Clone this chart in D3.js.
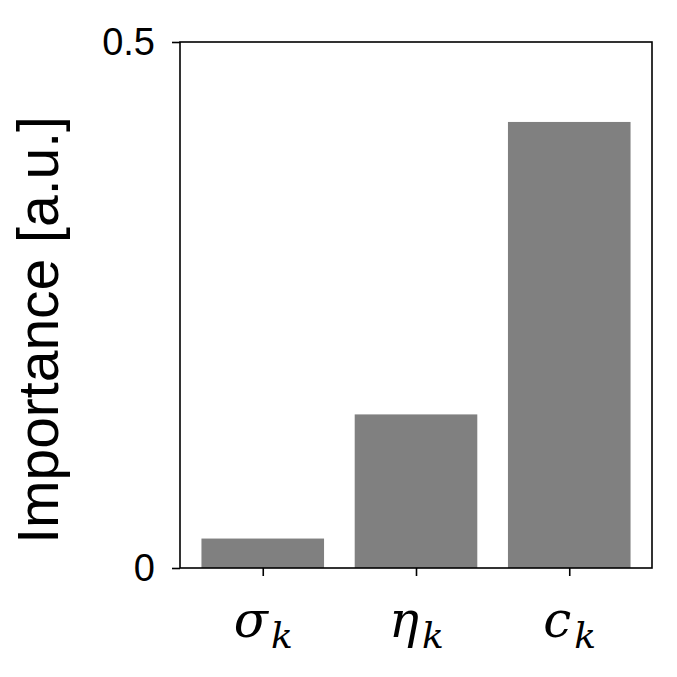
<!DOCTYPE html>
<html>
<head>
<meta charset="utf-8">
<script src="https://cdn.jsdelivr.net/npm/d3@7"></script>
<style>
  html, body { margin: 0; padding: 0; background: #fff; }
</style>
</head>
<body>
<div id="chart"></div>
<script>
// values
const categories = ["\u03C3", "\u03B7", "c"];   // sigma_k, eta_k, c_k
const subscripts = ["k", "k", "k"];
const importance = [0.028, 0.146, 0.424];
const yTicks = [0, 0.5];
const yTickLabels = ["0", "0.5"];

const W = 677, H = 677;
const plotLeft = 180, plotRight = 652, plotTop = 42, plotBottom = 568;

let svg = d3.select("#chart").append("svg")
  .attr("width", W)
  .attr("height", H)
  .style("display", "block");

// matplotlib-like bar axis: bars at 0..n-1, width 0.8, 5% margins
let x = d3.scaleLinear()
  .domain([-0.54, categories.length - 1 + 0.54])
  .range([plotLeft, plotRight]);
let y = d3.scaleLinear()
  .domain([0, 0.5])
  .range([plotBottom, plotTop]);

svg.append("g")
  .selectAll("rect")
  .data(importance)
  .join("rect")
  .attr("x", (d, i) => x(i - 0.4))
  .attr("width", (d, i) => x(i + 0.4) - x(i - 0.4))
  .attr("y", d => y(d))
  .attr("height", d => y(0) - y(d))
  .attr("fill", "#808080");

// frame
svg.append("rect")
  .attr("x", plotLeft).attr("y", plotTop)
  .attr("width", plotRight - plotLeft).attr("height", plotBottom - plotTop)
  .attr("fill", "none")
  .attr("stroke", "black")
  .attr("stroke-width", 1.6);

let yAxis = d3.axisLeft(y)
  .tickValues(yTicks)
  .tickFormat((d, i) => yTickLabels[i])
  .tickSize(8)
  .tickPadding(17);

svg.append("g")
  .attr("transform", "translate(" + plotLeft + ",0)")
  .call(yAxis)
  .call(g => {
    g.select(".domain").remove();
    g.selectAll(".tick line").attr("stroke-width", 1.6);
    g.selectAll(".tick text")
      .attr("font-family", "'Liberation Sans', Arial, sans-serif")
      .attr("font-size", 38)
      .attr("fill", "black");
  });

let xAxis = d3.axisBottom(x)
  .tickValues(d3.range(categories.length))
  .tickFormat("")
  .tickSize(8);

svg.append("g")
  .attr("transform", "translate(0," + plotBottom + ")")
  .call(xAxis)
  .call(g => {
    g.select(".domain").remove();
    g.selectAll(".tick line").attr("stroke-width", 1.6);
    let t = g.selectAll(".tick").append("text")
      .attr("y", 69)
      .attr("text-anchor", "middle")
      .attr("font-family", "'DejaVu Serif', 'Liberation Serif', serif")
      .attr("font-style", "italic")
      .attr("fill", "black");
    t.append("tspan")
      .attr("font-size", 50)
      .text((d, i) => categories[i]);
    t.append("tspan")
      .attr("font-size", 36)
      .attr("dy", 11)
      .attr("dx", 3)
      .text((d, i) => subscripts[i]);
  });

svg.append("text")
  .attr("transform", "translate(58," + 330 + ") rotate(-90)")
  .attr("text-anchor", "middle")
  .attr("font-family", "'Liberation Sans', Arial, sans-serif")
  .attr("font-size", 57)
  .attr("fill", "black")
  .text("Importance [a.u.]");
</script>
</body>
</html>
